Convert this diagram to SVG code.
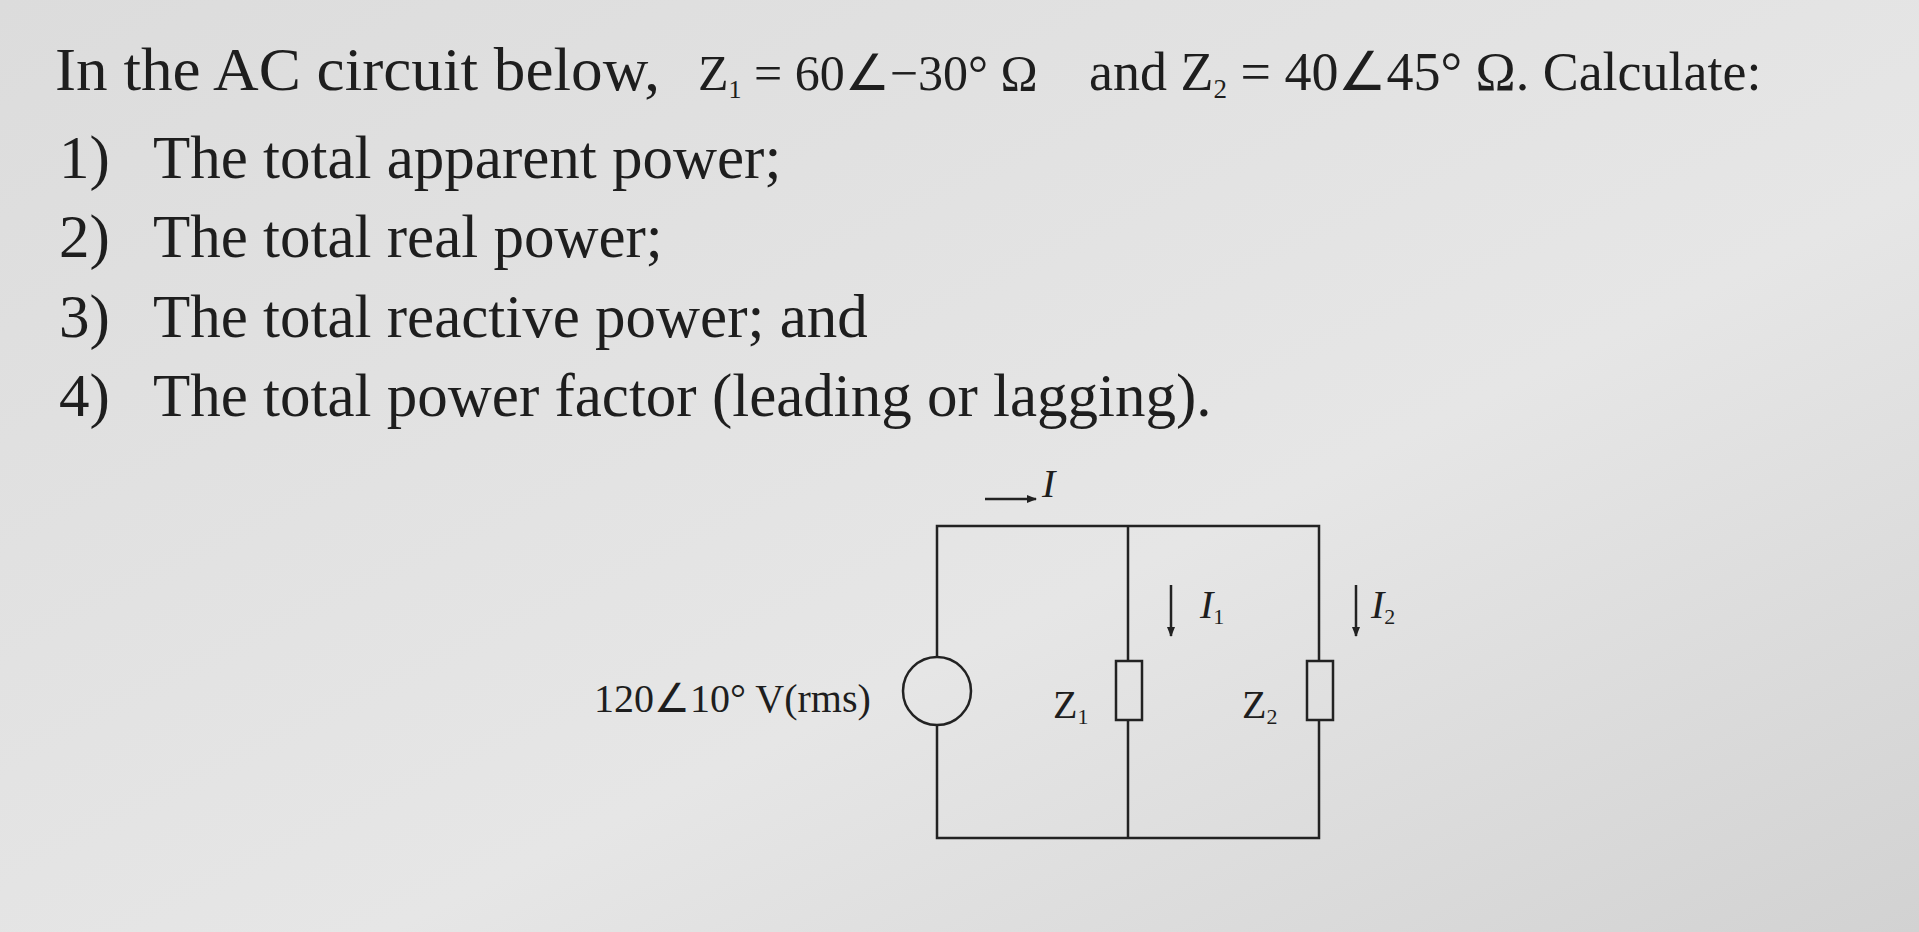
<svg xmlns="http://www.w3.org/2000/svg" width="1919" height="932" viewBox="0 0 1919 932">
<defs>
<linearGradient id="bg" x1="0" y1="0" x2="1" y2="1"><stop offset="0" stop-color="#dcdcdc"/><stop offset="0.6" stop-color="#e6e6e6"/><stop offset="1" stop-color="#d2d2d2"/></linearGradient>
<marker id="ah" markerWidth="10" markerHeight="8" refX="9" refY="4" orient="auto" markerUnits="userSpaceOnUse"><path d="M0,0 L10,4 L0,8 Z" fill="#222"/></marker>
<style>
.t{font-family:"Liberation Serif",serif;fill:#1e1e1e}
.h{font-size:54px}
.q{font-size:61px}
.c{font-size:40px}
.w{stroke:#222;stroke-width:2.5;fill:none}
</style>
</defs>
<rect width="1919" height="932" fill="url(#bg)"/>
<g id="text">
<text class="t q" x="55" y="90" textLength="605" lengthAdjust="spacingAndGlyphs">In the AC circuit below,</text>
<text class="t" font-size="50" x="698" y="90">Z<tspan font-size="26" dy="8">1</tspan><tspan dy="-8"> = 60∠−30° Ω</tspan></text>
<text class="t h" x="1089" y="90">and Z<tspan font-size="27" dy="8">2</tspan><tspan dy="-8"> = 40∠45° Ω. Calculate:</tspan></text>
<text class="t q" x="59" y="178">1)</text><text class="t q" x="153" y="178">The total apparent power;</text>
<text class="t q" x="59" y="257">2)</text><text class="t q" x="153" y="257">The total real power;</text>
<text class="t q" x="59" y="337">3)</text><text class="t q" x="153" y="337">The total reactive power; and</text>
<text class="t q" x="59" y="416">4)</text><text class="t q" x="153" y="416">The total power factor (leading or lagging).</text>
</g>
<g id="connectors">
<path class="w" d="M937,657 V526 H1319 V661 M937,725 V838 H1319 V720 M1128,526 V661 M1128,720 V838"/>
<line class="w" x1="985" y1="499" x2="1036" y2="499" marker-end="url(#ah)"/>
<line class="w" x1="1171" y1="585" x2="1171" y2="636" marker-end="url(#ah)"/>
<line class="w" x1="1356" y1="585" x2="1356" y2="636" marker-end="url(#ah)"/>
</g>
<g id="source"><circle class="w" cx="937" cy="691" r="34"/><text class="t c" x="594" y="712">120∠10° V(rms)</text></g>
<g id="z1"><rect class="w" x="1116" y="661" width="26" height="59"/><text class="t c" x="1053" y="718">Z<tspan font-size="22" dy="6">1</tspan></text></g>
<g id="z2"><rect class="w" x="1307" y="661" width="26" height="59"/><text class="t c" x="1242" y="718">Z<tspan font-size="22" dy="6">2</tspan></text></g>
<g id="labels">
<text class="t c" font-style="italic" x="1042" y="497">I</text>
<text class="t c" font-style="italic" x="1200" y="618">I<tspan font-size="22" dy="6" font-style="normal">1</tspan></text>
<text class="t c" font-style="italic" x="1371" y="618">I<tspan font-size="22" dy="6" font-style="normal">2</tspan></text>
</g>
</svg>
